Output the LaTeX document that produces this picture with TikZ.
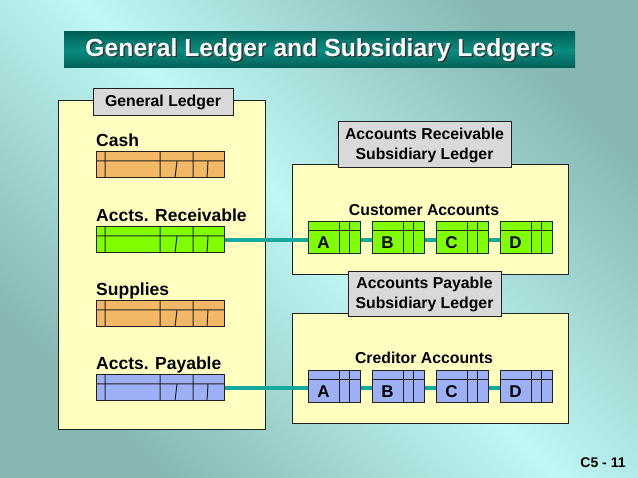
\documentclass[tikz,border=0pt]{standalone}
\usepackage{fontspec}
\setmainfont{Liberation Sans}
\usetikzlibrary{positioning}

\definecolor{panelfill}{HTML}{FFFFC0}
\definecolor{headfill}{HTML}{D9D9D9}
\definecolor{cashfill}{HTML}{F2B866}
\definecolor{arfill}{HTML}{80FF00}
\definecolor{apfill}{HTML}{9DB0F5}
\definecolor{linkcol}{HTML}{14A99E}
\definecolor{bgdark}{HTML}{86B7B3}
\definecolor{bglight}{HTML}{BFF7F4}
\definecolor{titledark}{HTML}{005F56}
\definecolor{titlemid}{HTML}{0A8C80}
\definecolor{edge}{HTML}{222222}

\tikzset{
    panel/.style={draw=edge, fill=panelfill, line width=1pt},
    head/.style={draw=edge, fill=headfill, line width=1pt, inner sep=0pt, align=center,
        font=\fontsize{15.8}{20}\selectfont\bfseries},
    acctname/.style={anchor=base west, inner sep=0pt, font=\fontsize{17.5}{20}\selectfont\bfseries},
    grpname/.style={anchor=base, inner sep=0pt, font=\fontsize{15.8}{20}\selectfont\bfseries},
    letter/.style={inner sep=0pt, font=\fontsize{17}{20}\selectfont\bfseries},
    link/.style={draw=linkcol, line width=4pt},
    glacct/.style={draw=edge, line width=1pt, minimum width=128pt, minimum height=26pt, inner sep=0pt,
        path picture={
            \draw[edge, line width=1pt]
                ([yshift=-9pt]path picture bounding box.north west) -- ([yshift=-9pt]path picture bounding box.north east)
                ([xshift=9pt]path picture bounding box.north west) -- ([xshift=9pt]path picture bounding box.south west)
                ([xshift=64pt]path picture bounding box.north west) -- ([xshift=64pt]path picture bounding box.south west)
                ([xshift=97pt]path picture bounding box.north west) -- ([xshift=97pt]path picture bounding box.south west)
                ([xshift=81pt,yshift=-9pt]path picture bounding box.north west) -- ([xshift=79pt]path picture bounding box.south west)
                ([xshift=112pt,yshift=-9pt]path picture bounding box.north west) -- ([xshift=111pt]path picture bounding box.south west);
        }},
    subacct/.style={draw=edge, line width=1pt, minimum width=52pt, minimum height=32pt, inner sep=0pt,
        path picture={
            \draw[edge, line width=1pt]
                ([yshift=-9pt]path picture bounding box.north west) -- ([yshift=-9pt]path picture bounding box.north east)
                ([xshift=31pt]path picture bounding box.north west) -- ([xshift=31pt]path picture bounding box.south west)
                ([xshift=41pt]path picture bounding box.north west) -- ([xshift=41pt]path picture bounding box.south west);
        }},
}

\begin{document}
\begin{tikzpicture}[x=1pt, y=-1pt]
    % background and title
    \shade[top color=bgdark, bottom color=bgdark, middle color=bglight, shading angle=-45] (0,0) rectangle (638,478);
    \node[minimum width=511pt, minimum height=36pt, inner sep=0pt,
        top color=titledark, bottom color=titledark, middle color=titlemid] (titlebar) at (319.5,50) {};
    \node[font=\fontsize{24.7}{28}\selectfont\bfseries, text=black!80] (titleshadow)
        at ([xshift=1.5pt,yshift=-1.5pt]titlebar.center) {General Ledger and Subsidiary Ledgers};
    \node[font=\fontsize{24.7}{28}\selectfont\bfseries, text=white] (titletext)
        at (titlebar.center) {General Ledger and Subsidiary Ledgers};

    % general ledger
    \draw[panel] (58,101) rectangle (265,430);
    \node[head, minimum width=140pt, minimum height=27pt] (glhead) at (163,102.5) {General Ledger};
    \node[acctname] (cashname) at (96,147) {Cash};
    \node[acctname] (arname) at (96,222) {Accts. Receivable};
    \node[acctname] (supname) at (96,296) {Supplies};
    \node[acctname] (apname) at (96,370) {Accts. Payable};
    \node[glacct, fill=cashfill] (cash) at (160,165) {};
    \node[glacct, fill=arfill] (ar) at (160,240) {};
    \node[glacct, fill=cashfill] (sup) at (160,314) {};
    \node[glacct, fill=apfill] (ap) at (160,388) {};

    % subsidiary ledgers
    \draw[panel] (292,165) rectangle (568,275);
    \draw[panel] (292,314) rectangle (568,424);
    \node[head, minimum width=173pt, minimum height=46pt] (arhead) at (424.5,145) {Accounts Receivable\\Subsidiary Ledger};
    \node[head, minimum width=153pt, minimum height=45pt] (aphead) at (424.5,294.5) {Accounts Payable\\Subsidiary Ledger};
    \node[grpname] (custname) at (424,216) {Customer Accounts};
    \node[grpname] (credname) at (424,364) {Creditor Accounts};

    \foreach \l [count=\i from 0] in {A,B,C,D} {
        \node[subacct, fill=arfill] (ar\l) at (334+\i*64,238) {};
        \node[letter] (ar\l name) at ([xshift=-10.5pt,yshift=-4.5pt]ar\l.center) {\l};
        \node[subacct, fill=apfill] (ap\l) at (334+\i*64,387) {};
        \node[letter] (ap\l name) at ([xshift=-10.5pt,yshift=-4.5pt]ap\l.center) {\l};
    }

    % connectors
    \draw[link] (ar.east) -- (ar.east -| arA.west);
    \draw[link] (ap.east) -- (ap.east -| apA.west);
    \foreach \a/\b in {A/B,B/C,C/D} {
        \draw[link] (ar\a.east |- ar.east) -- (ar\b.west |- ar.east);
        \draw[link] (ap\a.east |- ap.east) -- (ap\b.west |- ap.east);
    }

    \node[font=\fontsize{14}{16}\selectfont\bfseries] (pageno) at (603,463) {C5 - 11};
\end{tikzpicture}
\end{document}
